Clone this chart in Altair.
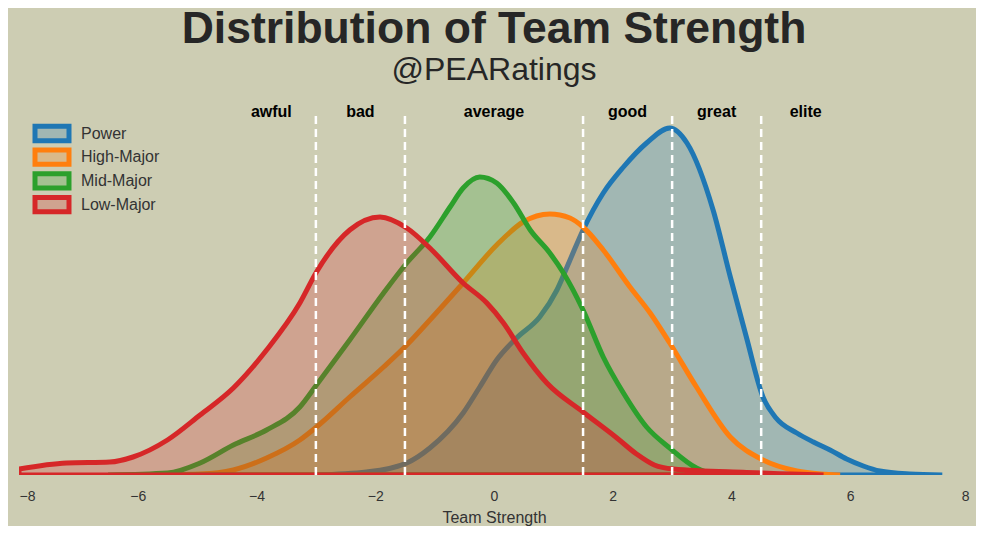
import altair as alt
import pandas as pd

# ---- data ----
series_names = ["Power", "High-Major", "Mid-Major", "Low-Major"]
series_colors = ["#1f77b4", "#ff7f0e", "#2ca02c", "#d62728"]

power_x = [-3.0, -2.15, -1.47, -1.08, -0.52, -0.24, 0.045, 0.38, 0.77, 1.06, 1.28, 1.5, 1.84, 2.18, 2.57, 2.96, 3.25, 3.69, 3.98, 4.25, 4.53, 4.75, 5.1, 5.38, 5.66, 5.94, 6.22, 6.5, 7.0, 7.55]
power_y = [0.0, 0.003, 0.012, 0.027, 0.062, 0.088, 0.115, 0.137, 0.158, 0.185, 0.215, 0.245, 0.282, 0.308, 0.332, 0.347, 0.332, 0.265, 0.198, 0.138, 0.078, 0.057, 0.042, 0.033, 0.025, 0.016, 0.009, 0.004, 0.001, 0.0]

high_x = [-6.0, -4.95, -4.39, -3.83, -3.27, -2.99, -2.43, -1.86, -1.47, -1.08, -0.52, 0.045, 0.49, 0.94, 1.28, 1.5, 1.84, 2.29, 2.63, 2.96, 3.41, 3.98, 4.53, 5.1, 5.5, 5.83]
high_y = [0.0, 0.001, 0.005, 0.017, 0.035, 0.048, 0.078, 0.108, 0.130, 0.155, 0.192, 0.230, 0.253, 0.261, 0.257, 0.248, 0.225, 0.188, 0.162, 0.132, 0.088, 0.038, 0.015, 0.004, 0.001, 0.0]

mid_x = [-6.5, -5.5, -4.95, -4.39, -3.83, -3.27, -2.99, -2.43, -1.86, -1.47, -1.08, -0.74, -0.52, -0.24, 0.045, 0.33, 0.61, 0.94, 1.17, 1.5, 1.84, 2.18, 2.57, 2.96, 3.41, 3.75]
mid_y = [0.0, 0.002, 0.012, 0.030, 0.045, 0.068, 0.090, 0.135, 0.182, 0.212, 0.238, 0.268, 0.287, 0.298, 0.292, 0.272, 0.245, 0.222, 0.202, 0.165, 0.118, 0.082, 0.048, 0.027, 0.007, 0.0]

low_x = [-8.0, -7.2, -6.47, -6.08, -5.5, -4.95, -4.39, -3.83, -3.27, -2.99, -2.43, -1.92, -1.47, -1.08, -0.52, -0.12, 0.16, 0.49, 0.89, 1.5, 2.07, 2.4, 2.7, 3.02, 4.25, 5.0, 5.55]
low_y = [0.006, 0.012, 0.013, 0.018, 0.035, 0.060, 0.087, 0.125, 0.172, 0.203, 0.245, 0.258, 0.247, 0.227, 0.192, 0.172, 0.152, 0.122, 0.092, 0.063, 0.037, 0.021, 0.010, 0.006, 0.0025, 0.001, 0.0]

thresholds = [-3.0, -1.5, 1.5, 3.0, 4.5]
tier_labels = ["awful", "bad", "average", "good", "great", "elite"]
tier_centers = [-3.75, -2.25, 0.0, 2.25, 3.75, 5.25]
line_top = 0.362
label_level = 0.363
x_ticks = [-8, -6, -4, -2, 0, 2, 4, 6, 8]

# ---- tables ----
rows = []
for name, xs, ys in [("Power", power_x, power_y), ("High-Major", high_x, high_y),
                     ("Mid-Major", mid_x, mid_y), ("Low-Major", low_x, low_y)]:
    for xv, yv in zip(xs, ys):
        rows.append({"series": name, "x": xv, "density": yv})
df = pd.DataFrame(rows)
thr_df = pd.DataFrame({"x": thresholds, "y0": [0.0] * len(thresholds), "y1": [line_top] * len(thresholds)})
lab_df = pd.DataFrame({"x": tier_centers, "label": tier_labels, "y": [label_level] * len(tier_labels)})

FONT = "Liberation Sans"
xscale = alt.Scale(domain=[-8, 8], nice=False, zero=False)
yscale = alt.Scale(domain=[0, 0.375], nice=False, zero=False)
cscale = alt.Scale(domain=series_names, range=series_colors)

legend = alt.Legend(
    title=None, orient="none", legendX=11, legendY=23,
    symbolType="M-2,-0.84H2V0.84H-2Z", symbolSize=289, symbolStrokeWidth=4, symbolOffset=11,
    labelFontSize=16, labelFont=FONT, labelColor="#333333", labelOffset=18,
    clipHeight=21, rowPadding=2.7,
)

xenc = alt.X("x:Q", scale=xscale,
             axis=alt.Axis(values=x_ticks, format="d", domain=False, ticks=False, grid=False,
                           labelFontSize=14, labelFont=FONT, labelColor="#333333", labelPadding=14,
                           title="Team Strength", titleFontSize=16, titleFont=FONT,
                           titleFontWeight="normal", titleColor="#333333", titlePadding=6))
yenc = alt.Y("density:Q", scale=yscale, axis=None)

layers = []
for name in series_names:
    layers.append(
        alt.Chart(df).transform_filter(alt.datum.series == name)
        .mark_area(interpolate="monotone", clip=True)
        .encode(x=xenc, y=yenc,
                color=alt.Color("series:N", scale=cscale, legend=legend, sort=series_names),
                stroke=alt.Stroke("series:N", scale=cscale, legend=legend, sort=series_names))
    )

rules = alt.Chart(thr_df).mark_rule(color="white", strokeWidth=2.5, strokeDash=[8, 5]).encode(
    x=alt.X("x:Q", scale=xscale), y=alt.Y("y0:Q", scale=yscale), y2="y1:Q")

labels = alt.Chart(lab_df).mark_text(font=FONT, fontSize=16, fontWeight="bold", color="black",
                                     baseline="middle", align="center").encode(
    x=alt.X("x:Q", scale=xscale), y=alt.Y("y:Q", scale=yscale), text="label:N")

chart = alt.layer(*layers, rules, labels).properties(
    width=950, height=375,
    title=alt.TitleParams("Distribution of Team Strength", subtitle="@PEARatings",
                          font=FONT, fontSize=44.5, fontWeight="bold", color="#262626",
                          subtitleFont=FONT, subtitleFontSize=32, subtitleColor="#262626",
                          anchor="middle", offset=13, subtitlePadding=3),
    autosize=alt.AutoSizeParams(type="none"),
    padding={"left": 11, "top": 92, "right": 7, "bottom": 51},
    background="#CDCDB3",
).configure_view(stroke=None).configure_area(fillOpacity=0.25, strokeWidth=5)

chart.save("out.html", embed_options={"renderer": "svg", "actions": False})
